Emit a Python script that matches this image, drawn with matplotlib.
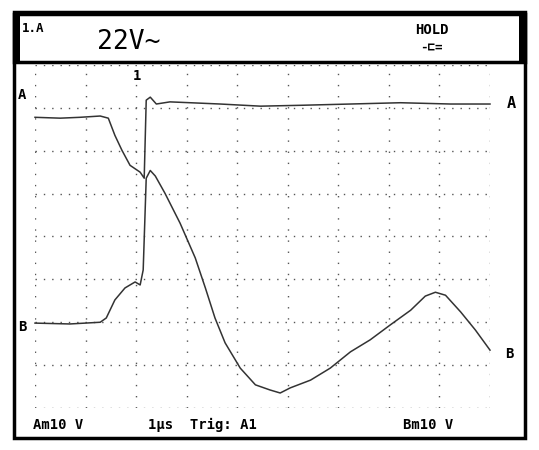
import matplotlib
matplotlib.use("Agg")
import matplotlib.pyplot as plt
from matplotlib.patches import Rectangle

# time in µs (1 µs/div), voltage in divisions (10 V/div)
a_t = [0, 0.50, 0.89, 1.29, 1.45, 1.58, 1.72, 1.88, 2.08, 2.16, 2.20, 2.28, 2.40, 2.67, 3.07, 3.66, 4.46, 5.25, 6.24, 7.23, 8.22, 9.0]
a_v = [6.78, 6.76, 6.78, 6.81, 6.76, 6.36, 6.01, 5.66, 5.50, 5.36, 7.18, 7.25, 7.09, 7.14, 7.12, 7.09, 7.04, 7.06, 7.09, 7.12, 7.09, 7.09]
b_t = [0, 0.69, 1.29, 1.41, 1.58, 1.78, 1.98, 2.08, 2.14, 2.20, 2.28, 2.38, 2.57, 2.87, 3.17, 3.37, 3.56, 3.76, 4.06, 4.36, 4.65, 4.85, 5.05, 5.45, 5.84, 6.24, 6.63, 7.03, 7.43, 7.72, 7.92, 8.12, 8.42, 8.71, 9.0]
b_v = [1.98, 1.96, 2.00, 2.10, 2.52, 2.80, 2.94, 2.87, 3.22, 5.36, 5.54, 5.41, 5.01, 4.31, 3.50, 2.80, 2.10, 1.52, 0.93, 0.54, 0.42, 0.35, 0.47, 0.65, 0.93, 1.31, 1.59, 1.94, 2.28, 2.61, 2.70, 2.63, 2.24, 1.82, 1.35]

W, H = 539, 450
fig = plt.figure(figsize=(W/100, H/100), dpi=100)
fig.patch.set_facecolor("white")

def fx(px): return px / W
def fy(py): return 1 - py / H

# outer frame
fig.patches.append(Rectangle((fx(14), fy(438)), fx(525) - fx(14), fy(12) - fy(438),
                             transform=fig.transFigure, fill=False, lw=2.5, ec="black"))
# header box
fig.patches.append(Rectangle((fx(14), fy(62)), fx(525) - fx(14), fy(14) - fy(62),
                             transform=fig.transFigure, fill=False, lw=2.5, ec="black"))
for x0 in (14, 519):
    fig.patches.append(Rectangle((fx(x0), fy(62)), fx(6), fy(14) - fy(62),
                                 transform=fig.transFigure, fc="black", ec="none"))

ax = fig.add_axes([fx(35), fy(408), fx(490) - fx(35), fy(65) - fy(408)])
ax.set_xlim(0, 9)
ax.set_ylim(0, 8)
for s in ax.spines.values():
    s.set_visible(False)
ax.set_xticks([]); ax.set_yticks([])
for i in range(10):
    ax.axvline(i, color="#555555", lw=1, ls=(0, (1, 7)))
for j in range(9):
    ax.axhline(j, color="#555555", lw=1, ls=(0, (1, 5)))
ax.plot(a_t, a_v, color="#333333", lw=1.1, clip_on=False)
ax.plot(b_t, b_v, color="#333333", lw=1.1, clip_on=False)

mono = dict(family="DejaVu Sans Mono", fontweight="bold", color="black")
fig.text(fx(22), fy(28), "1.A", fontsize=9, va="center", **mono)
fig.text(fx(97), fy(42), "22V~", fontsize=19, va="center", fontweight="normal",
         family="DejaVu Sans Mono", color="black")
fig.text(fx(415), fy(30), "HOLD", fontsize=10, va="center", **mono)
fig.text(fx(420), fy(47), "-⊏=", fontsize=9, va="center", **mono)
fig.text(fx(133), fy(76), "1", fontsize=10, va="center", **mono)
fig.text(fx(18), fy(95), "A", fontsize=10, va="center", **mono)
fig.text(fx(18), fy(327), "B", fontsize=10, va="center", **mono)
fig.text(fx(507), fy(103), "A", fontsize=11, va="center", **mono)
fig.text(fx(505), fy(354), "B", fontsize=10, va="center", **mono)
fig.text(fx(33), fy(425), "Am10 V", fontsize=10, va="center", **mono)
fig.text(fx(148), fy(425), "1µs  Trig: A1", fontsize=10, va="center", **mono)
fig.text(fx(403), fy(425), "Bm10 V", fontsize=10, va="center", **mono)

fig.savefig("out.png", dpi=100)
